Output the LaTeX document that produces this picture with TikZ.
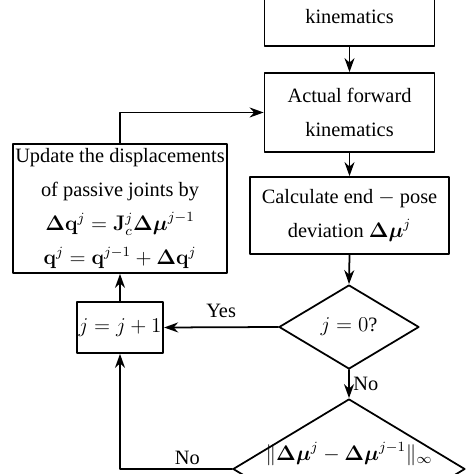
\documentclass[tikz,border=0pt]{standalone}
\usepackage{amsmath,amssymb}
\usepackage[no-math]{fontspec}
\setmainfont{Liberation Serif}
\usepackage{tikz}
\usetikzlibrary{arrows.meta,positioning,shapes.geometric}
\tikzset{
    every picture/.style={line cap=round,line join=round},
    procbox/.style={draw=black,line width=1pt,minimum width=34mm,minimum height=15.8mm,
      inner sep=1pt,align=center},
    decision/.style={draw=black,diamond,line width=1pt,inner sep=0pt,align=center},
    flowarrow/.style={-{Stealth[length=2.8mm,width=2mm,inset=0.9mm]},draw=black,
      line width=1pt},
    edgelabel/.style={inner sep=2pt}
}

\begin{document}
\begin{tikzpicture}[font=\fontsize{11.6}{19.3}\selectfont]
  \useasboundingbox (0,0) rectangle (9.48,9.48);
  % main column
  \node[procbox] (nomkin) at (6.99,9.35) {\mbox{}\\kinematics};
  \node[procbox] (actkin) at (6.99,7.23) {Actual forward\\kinematics};
  \node[procbox,minimum width=39.8mm,minimum height=15.4mm] (devcalc) at (6.99,5.17)
    {Calculate end $-$ pose\\deviation $\boldsymbol{\Delta\mu}^{j}$};
  \node[decision,minimum width=28mm,minimum height=16.8mm,aspect=1.67] (firstit) at (6.98,2.94) {$j=0$?};
  \node[decision,minimum width=46.4mm,minimum height=28mm,aspect=1.66] (conv) at (6.98,0.10) {};
  \node (convtxt) at (6.98,0.40) {$\|\boldsymbol{\Delta\mu}^{j}-\boldsymbol{\Delta\mu}^{j-1}\|_{\infty}$};
  % update loop
  \node[procbox,minimum width=16.8mm,minimum height=10.2mm] (jinc) at (2.40,2.93) {$j=j+1$};
  \node[procbox,minimum width=42.8mm,minimum height=25.8mm] (update) at (2.40,5.31)
    {Update the displacements\\of passive joints by\\
     $\boldsymbol{\Delta}\mathbf{q}^{j}=\mathbf{J}_{c}^{j}\boldsymbol{\Delta\mu}^{j-1}$\\
     $\mathbf{q}^{j}=\mathbf{q}^{j-1}+\boldsymbol{\Delta}\mathbf{q}^{j}$};

  \draw[flowarrow] (nomkin.south)--(actkin.north);
  \draw[flowarrow] (actkin.south)--(devcalc.north);
  \draw[flowarrow] (devcalc.south)--(firstit.north);
  \draw[flowarrow] (firstit.west)--node[edgelabel,above=3pt]{Yes}(jinc.east);
  \draw[flowarrow] (firstit.south)--node[edgelabel,right]{No}(conv.north);
  \draw[flowarrow] (jinc.north)--(update.south);
  \draw[flowarrow] (update.north)|-(actkin.west);
  \draw[flowarrow] (conv.west)-|node[edgelabel,pos=0.2,above]{No}(jinc.south);
\end{tikzpicture}
\end{document}
